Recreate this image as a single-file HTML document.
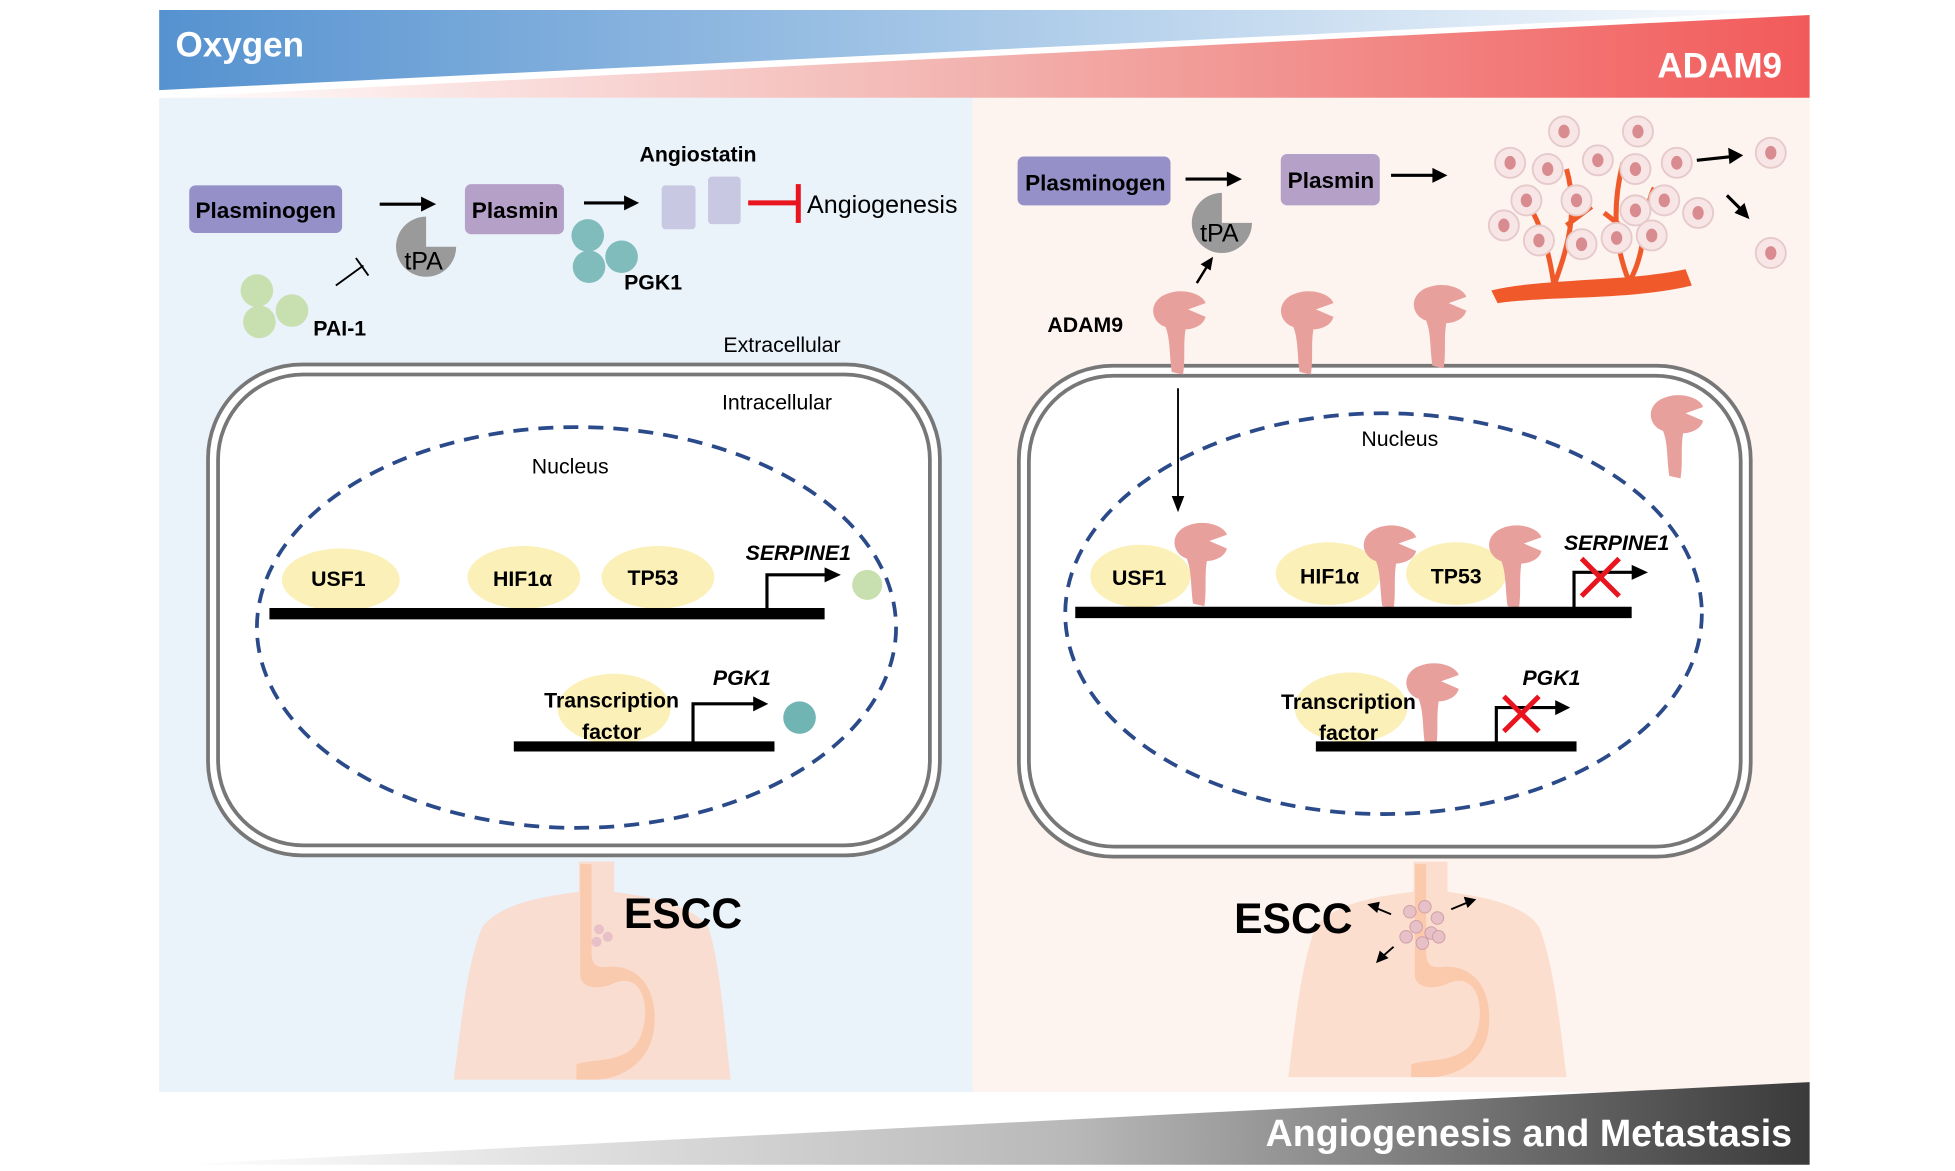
<!DOCTYPE html>
<html><head><meta charset="utf-8"><style>
html,body{margin:0;padding:0;background:#fff;}
svg{display:block;}
text{font-family:"Liberation Sans",sans-serif;}
</style></head><body>
<svg width="1955" height="1171" viewBox="0 0 1560 935" preserveAspectRatio="none" xmlns="http://www.w3.org/2000/svg">
<defs>
<linearGradient id="gb" x1="0" y1="0" x2="1" y2="0"><stop offset="0" stop-color="#5592d0"/><stop offset="0.5" stop-color="#a9c9e8"/><stop offset="1" stop-color="#ffffff"/></linearGradient>
<linearGradient id="gr" x1="0" y1="0" x2="1" y2="0"><stop offset="0" stop-color="#ffffff"/><stop offset="0.5" stop-color="#f2b2ae"/><stop offset="1" stop-color="#f25a5a"/></linearGradient>
<linearGradient id="gg" x1="0" y1="0" x2="1" y2="0"><stop offset="0" stop-color="#ffffff"/><stop offset="0.55" stop-color="#b8b8b8"/><stop offset="1" stop-color="#3a3a3a"/></linearGradient>
<g id="m"><path d="M-5,0 C-7,-14 -6,-26 -10,-36 C-22,-40 -24,-56 -10,-62 C4,-68 20,-62 22,-55 L8,-50 L22,-44 C20,-36 10,-34 6,-34 C4,-22 6,-10 4,2 Z" fill="#e8a09c"/></g>
<g id="cell"><circle r="12" fill="#f8e6e6" stroke="#e6caca" stroke-width="1.5"/><ellipse rx="4.5" ry="5.5" fill="#d98c90"/></g>
</defs>
<rect x="127" y="78" width="649" height="794" fill="#eaf2fa"/>
<rect x="776" y="78" width="668" height="794" fill="#fdf3ef"/>
<polygon points="127,8 1444,8 127,72" fill="url(#gb)"/>
<polygon points="127,78 1444,12 1444,78" fill="url(#gr)"/>
<text x="140" y="45" font-size="28" font-weight="bold" fill="#fff">Oxygen</text>
<text x="1422" y="62" font-size="28" font-weight="bold" fill="#fff" text-anchor="end">ADAM9</text>
<polygon points="140,930 1444,864 1444,930" fill="url(#gg)"/>
<text x="1430" y="915" font-size="30" font-weight="bold" fill="#fff" text-anchor="end">Angiogenesis and Metastasis</text>

<!-- LEFT -->
<rect x="151" y="148" width="122" height="38" rx="5" fill="#9590c8"/>
<text x="212" y="174" font-size="18" font-weight="bold" text-anchor="middle">Plasminogen</text>
<line x1="303" y1="163" x2="338" y2="163" stroke="#000" stroke-width="2.5"/><polygon points="348,163 336,157 336,169"/>
<rect x="371" y="147" width="79" height="40" rx="5" fill="#b5a0c8"/>
<text x="411" y="174" font-size="18" font-weight="bold" text-anchor="middle">Plasmin</text>
<path d="M340,197 L340,173 A24,24 0 1 0 364,197 Z" fill="#9a9a9a"/>
<text x="338" y="215" font-size="20" text-anchor="middle">tPA</text>
<circle cx="205" cy="232" r="13" fill="#c8e0b0"/><circle cx="233" cy="248" r="13" fill="#c8e0b0"/><circle cx="207" cy="257" r="13" fill="#c8e0b0"/>
<text x="250" y="268" font-size="17" font-weight="bold">PAI-1</text>
<line x1="268" y1="228" x2="290" y2="212" stroke="#000" stroke-width="1.5"/><line x1="284" y1="206" x2="294" y2="220" stroke="#000" stroke-width="1.5"/>
<line x1="466" y1="162" x2="500" y2="162" stroke="#000" stroke-width="2.5"/><polygon points="510,162 498,156 498,168"/>
<circle cx="469" cy="188" r="13" fill="#80bcbc"/><circle cx="496" cy="205" r="13" fill="#80bcbc"/><circle cx="470" cy="213" r="13" fill="#80bcbc"/>
<text x="498" y="231" font-size="17" font-weight="bold">PGK1</text>
<rect x="528" y="148" width="27" height="35" rx="3" fill="#c8c8e2"/><rect x="565" y="141" width="26" height="38" rx="3" fill="#c8c8e2"/>
<text x="557" y="129" font-size="17" font-weight="bold" text-anchor="middle">Angiostatin</text>
<line x1="597" y1="162" x2="637" y2="162" stroke="#e8141e" stroke-width="4"/><line x1="637" y1="147" x2="637" y2="178" stroke="#e8141e" stroke-width="4"/>
<text x="644" y="170" font-size="20">Angiogenesis</text>
<text x="624" y="281" font-size="17" text-anchor="middle">Extracellular</text>
<rect x="166" y="291" width="584" height="392" rx="75" fill="#fff" stroke="#777" stroke-width="3"/>
<rect x="174" y="299" width="568" height="376" rx="68" fill="none" stroke="#777" stroke-width="3"/>
<text x="620" y="327" font-size="17" text-anchor="middle">Intracellular</text>
<ellipse cx="460" cy="501" rx="255" ry="160" fill="none" stroke="#2a4a8a" stroke-width="3" stroke-dasharray="12,8"/>
<text x="455" y="378" font-size="17" text-anchor="middle">Nucleus</text>
<ellipse cx="272" cy="463" rx="47" ry="25" fill="#fbf0b8"/><ellipse cx="418" cy="461" rx="45" ry="25" fill="#fbf0b8"/><ellipse cx="525" cy="461" rx="45" ry="25" fill="#fbf0b8"/>
<text x="270" y="468" font-size="17" font-weight="bold" text-anchor="middle">USF1</text>
<text x="417" y="468" font-size="17" font-weight="bold" text-anchor="middle">HIF1α</text>
<text x="521" y="467" font-size="17" font-weight="bold" text-anchor="middle">TP53</text>
<line x1="215" y1="490" x2="658" y2="490" stroke="#000" stroke-width="9"/>
<path d="M612,490 V459 H660" fill="none" stroke="#000" stroke-width="2.5"/><polygon points="671,459 658,453 658,465"/>
<text x="637" y="447" font-size="17" font-weight="bold" font-style="italic" text-anchor="middle">SERPINE1</text>
<circle cx="692" cy="467" r="12" fill="#c8e0b0"/>
<ellipse cx="490" cy="566" rx="45" ry="28" fill="#fbf0b8"/>
<text x="488" y="565" font-size="17" font-weight="bold" text-anchor="middle">Transcription</text>
<text x="488" y="590" font-size="17" font-weight="bold" text-anchor="middle">factor</text>
<line x1="410" y1="596" x2="618" y2="596" stroke="#000" stroke-width="8"/>
<path d="M553,596 V562 H602" fill="none" stroke="#000" stroke-width="2.5"/><polygon points="613,562 601,556 601,568"/>
<text x="592" y="547" font-size="17" font-weight="bold" font-style="italic" text-anchor="middle">PGK1</text>
<circle cx="638" cy="573" r="13" fill="#70b4b4"/>
<path d="M462,688 V712 C440,715 400,720 385,740 C372,770 368,820 362,862 H583 C578,820 575,770 565,740 C550,720 510,715 490,712 V688 Z" fill="#fcd9c8" opacity="0.85"/>
<path d="M463,690 V780 C465,790 480,790 490,785 C515,775 520,810 510,830 C500,850 470,845 460,850 V862 H478 C500,860 520,845 522,820 C525,790 510,770 485,772 C476,773 472,770 472,760 V690 Z" fill="#fbc2a0" opacity="0.7"/>
<circle cx="478" cy="742" r="4" fill="#e8c0c8"/><circle cx="485" cy="748" r="4" fill="#e8c0c8"/><circle cx="476" cy="752" r="4" fill="#e8c0c8"/>
<text x="545" y="741" font-size="34" font-weight="bold" text-anchor="middle">ESCC</text>

<!-- RIGHT -->
<rect x="812" y="125" width="122" height="39" rx="5" fill="#9590c8"/>
<text x="874" y="152" font-size="18" font-weight="bold" text-anchor="middle">Plasminogen</text>
<line x1="946" y1="143" x2="981" y2="143" stroke="#000" stroke-width="2.5"/><polygon points="991,143 979,137 979,149"/>
<rect x="1022" y="123" width="79" height="41" rx="5" fill="#b5a0c8"/>
<text x="1062" y="150" font-size="18" font-weight="bold" text-anchor="middle">Plasmin</text>
<line x1="1110" y1="140" x2="1145" y2="140" stroke="#000" stroke-width="2.5"/><polygon points="1155,140 1143,134 1143,146"/>
<path d="M975,178 L975,154 A24,24 0 1 0 999,178 Z" fill="#9a9a9a"/>
<text x="973" y="193" font-size="20" text-anchor="middle">tPA</text>
<line x1="955" y1="226" x2="963" y2="213" stroke="#000" stroke-width="2"/><polygon points="968,205 958,211 966,216"/>
<text x="866" y="265" font-size="17" font-weight="bold" text-anchor="middle">ADAM9</text>
<!-- tumour -->
<path d="M1190,232 C1230,222 1300,225 1345,215 L1350,228 C1300,240 1240,236 1195,242 Z" fill="#f05a2a"/>
<path d="M1240,228 C1236,200 1230,180 1218,160 M1240,228 C1250,200 1260,170 1250,135 M1300,225 C1290,200 1285,170 1295,130 M1300,225 C1315,200 1310,170 1320,150 M1250,180 L1270,165 M1293,180 L1280,170" fill="none" stroke="#f05a2a" stroke-width="4"/>
<use href="#cell" x="1248" y="105"/><use href="#cell" x="1307" y="105"/><use href="#cell" x="1205" y="130"/><use href="#cell" x="1235" y="135"/><use href="#cell" x="1275" y="128"/><use href="#cell" x="1305" y="135"/><use href="#cell" x="1338" y="130"/><use href="#cell" x="1218" y="160"/><use href="#cell" x="1258" y="160"/><use href="#cell" x="1305" y="168"/><use href="#cell" x="1328" y="160"/><use href="#cell" x="1355" y="170"/><use href="#cell" x="1200" y="180"/><use href="#cell" x="1228" y="192"/><use href="#cell" x="1262" y="195"/><use href="#cell" x="1318" y="188"/><use href="#cell" x="1290" y="190"/><use href="#cell" x="1413" y="122"/><use href="#cell" x="1413" y="202"/>
<line x1="1354" y1="128" x2="1382" y2="125" stroke="#000" stroke-width="2.5"/><polygon points="1391,124 1379,118 1380,131"/>
<line x1="1378" y1="156" x2="1390" y2="168" stroke="#000" stroke-width="2.5"/><polygon points="1396,175 1384,170 1392,162"/>
<rect x="813" y="292" width="584" height="392" rx="75" fill="#fff" stroke="#777" stroke-width="3"/>
<rect x="821" y="300" width="568" height="376" rx="68" fill="none" stroke="#777" stroke-width="3"/>
<use href="#m" x="940" y="297"/><use href="#m" x="1042" y="297"/><use href="#m" x="1148" y="292"/><use href="#m" x="1337" y="380"/>
<ellipse cx="1104" cy="490" rx="254" ry="160" fill="none" stroke="#2a4a8a" stroke-width="3" stroke-dasharray="12,8"/>
<text x="1117" y="356" font-size="17" text-anchor="middle">Nucleus</text>
<line x1="940" y1="310" x2="940" y2="398" stroke="#000" stroke-width="1.5"/><polygon points="940,409 935,396 945,396"/>
<ellipse cx="910" cy="460" rx="40" ry="25" fill="#fbf0b8"/><ellipse cx="1060" cy="458" rx="42" ry="25" fill="#fbf0b8"/><ellipse cx="1162" cy="458" rx="40" ry="25" fill="#fbf0b8"/>
<text x="909" y="467" font-size="17" font-weight="bold" text-anchor="middle">USF1</text>
<text x="1061" y="466" font-size="17" font-weight="bold" text-anchor="middle">HIF1α</text>
<text x="1162" y="466" font-size="17" font-weight="bold" text-anchor="middle">TP53</text>
<use href="#m" x="957" y="482"/><use href="#m" x="1108" y="484"/><use href="#m" x="1208" y="484"/>
<line x1="858" y1="489" x2="1302" y2="489" stroke="#000" stroke-width="9"/>
<path d="M1256,489 V457 H1304" fill="none" stroke="#000" stroke-width="2.5"/><polygon points="1315,457 1302,451 1302,463"/>
<path d="M1262,446 L1292,476 M1292,446 L1262,476" stroke="#e8141e" stroke-width="4"/>
<text x="1290" y="439" font-size="17" font-weight="bold" font-style="italic" text-anchor="middle">SERPINE1</text>
<ellipse cx="1078" cy="565" rx="45" ry="28" fill="#fbf0b8"/>
<use href="#m" x="1142" y="594"/>
<text x="1076" y="566" font-size="17" font-weight="bold" text-anchor="middle">Transcription</text>
<text x="1076" y="591" font-size="17" font-weight="bold" text-anchor="middle">factor</text>
<line x1="1050" y1="596" x2="1258" y2="596" stroke="#000" stroke-width="8"/>
<path d="M1194,596 V565 H1242" fill="none" stroke="#000" stroke-width="2.5"/><polygon points="1253,565 1241,559 1241,571"/>
<path d="M1200,556 L1228,584 M1228,556 L1200,584" stroke="#e8141e" stroke-width="4"/>
<text x="1238" y="547" font-size="17" font-weight="bold" font-style="italic" text-anchor="middle">PGK1</text>
<path d="M1128,688 V712 C1105,715 1065,720 1050,740 C1038,770 1033,820 1028,860 H1250 C1245,820 1240,770 1228,740 C1215,720 1175,715 1155,712 V688 Z" fill="#fcd9c8" opacity="0.85"/>
<path d="M1129,690 V780 C1131,790 1146,790 1156,785 C1181,775 1186,810 1176,830 C1166,850 1136,845 1126,850 V860 H1144 C1166,858 1186,845 1188,820 C1191,790 1176,770 1151,772 C1142,773 1138,770 1138,760 V690 Z" fill="#fbc2a0" opacity="0.7"/>
<g fill="#e8c0c8" stroke="#d0a0a8" stroke-width="0.8"><circle cx="1125" cy="728" r="5"/><circle cx="1137" cy="724" r="5"/><circle cx="1147" cy="733" r="5"/><circle cx="1130" cy="740" r="5"/><circle cx="1142" cy="745" r="5"/><circle cx="1122" cy="748" r="5"/><circle cx="1135" cy="753" r="5"/><circle cx="1148" cy="748" r="5"/></g>
<line x1="1110" y1="730" x2="1098" y2="725" stroke="#000" stroke-width="1.5"/><polygon points="1091,722 1101,720 1099,729"/>
<line x1="1158" y1="726" x2="1170" y2="721" stroke="#000" stroke-width="1.5"/><polygon points="1178,718 1168,716 1171,725"/>
<line x1="1112" y1="756" x2="1104" y2="763" stroke="#000" stroke-width="1.5"/><polygon points="1098,769 1101,759 1108,765"/>
<text x="1032" y="745" font-size="34" font-weight="bold" text-anchor="middle">ESCC</text>
</svg>
</body></html>
